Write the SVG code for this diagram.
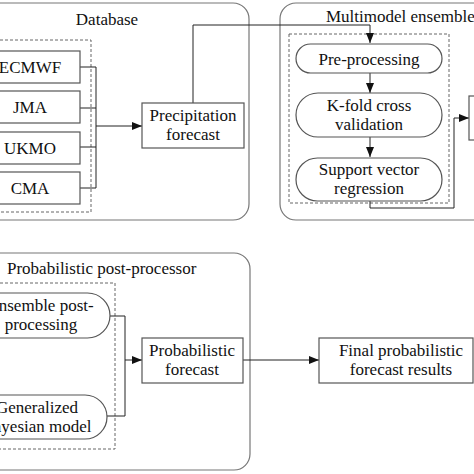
<svg xmlns="http://www.w3.org/2000/svg" width="474" height="474" viewBox="0 0 474 474">
<defs>
<marker id="ah" viewBox="0 0 10 8" refX="10" refY="4" markerWidth="10" markerHeight="8" markerUnits="userSpaceOnUse" orient="auto">
<path d="M0,0 L10,4 L0,8 Z" fill="#111"/>
</marker>
</defs>
<style>
text{font-family:"Liberation Serif","Times New Roman",serif;font-size:17px;fill:#111;text-anchor:middle}
.cont{fill:none;stroke:#777;stroke-width:1.2}
.dash{fill:none;stroke:#666;stroke-width:1;stroke-dasharray:3,2}
.box{fill:#fff;stroke:#555;stroke-width:1.2}
.ln{fill:none;stroke:#222;stroke-width:1}
.arr{fill:none;stroke:#222;stroke-width:1;marker-end:url(#ah)}
</style>
<rect width="474" height="474" fill="#fff"/>
<g id="containers">
<rect class="cont" x="-20" y="3" width="269" height="217" rx="16"/>
<rect class="cont" x="280" y="3" width="230" height="217" rx="16"/>
<rect class="cont" x="-20" y="253" width="270" height="217" rx="16"/>
<rect class="dash" x="-10" y="40" width="101" height="172"/>
<rect class="dash" x="289" y="34" width="160" height="169"/>
<rect class="dash" x="-10" y="283" width="125" height="166"/>
<text x="107" y="25">Database</text>
<text x="326" y="22" style="text-anchor:start">Multimodel ensemble</text>
<text x="7" y="274" style="text-anchor:start">Probabilistic post-processor</text>
</g>
<g id="connectors">
<path class="ln" d="M80,67 H96 M80,108 H96 M80,147 H96 M80,188 H96 M96,67 V188"/>
<path class="arr" d="M96,126 H142"/>
<path class="arr" d="M193,103 V25 H370 V43"/>
<path class="arr" d="M370,73 V93"/>
<path class="arr" d="M370,137 V157"/>
<path class="arr" d="M370,201 V208 H454 V118 H469"/>
<path class="ln" d="M110,316 H125 V416 H107"/>
<path class="arr" d="M125,360 H142"/>
<path class="arr" d="M243,360 H319"/>
</g>
<g id="ecmwf"><rect class="box" x="-20" y="51" width="100" height="32"/><text x="30" y="73">ECMWF</text></g>
<g id="jma"><rect class="box" x="-20" y="91" width="100" height="32"/><text x="30" y="113">JMA</text></g>
<g id="ukmo"><rect class="box" x="-20" y="132" width="100" height="32"/><text x="30" y="154">UKMO</text></g>
<g id="cma"><rect class="box" x="-20" y="172" width="100" height="32"/><text x="30" y="194">CMA</text></g>
<g id="precip"><rect class="box" x="142" y="103" width="102" height="45"/><text x="193" y="121">Precipitation</text><text x="193" y="140">forecast</text></g>
<g id="preproc"><rect class="box" x="296" y="44" width="146" height="29" rx="14.5"/><text x="369" y="65">Pre-processing</text></g>
<g id="kfold"><rect class="box" x="296" y="93" width="146" height="44" rx="22"/><text x="369" y="111">K-fold cross</text><text x="369" y="130">validation</text></g>
<g id="svr"><rect class="box" x="296" y="158" width="146" height="43" rx="21.5"/><text x="369" y="175">Support vector</text><text x="369" y="194">regression</text></g>
<g id="mme-out"><rect class="box" x="469" y="96" width="30" height="44"/></g>
<g id="epp"><rect class="box" x="-28" y="293" width="138" height="45" rx="22.5"/><text x="41" y="311">Ensemble post-</text><text x="41" y="330">processing</text></g>
<g id="gbm"><rect class="box" x="-33" y="395" width="140" height="44" rx="22"/><text x="37" y="413">Generalized</text><text x="37" y="432">Bayesian model</text></g>
<g id="probfc"><rect class="box" x="142" y="338" width="101" height="45"/><text x="192" y="356">Probabilistic</text><text x="192" y="375">forecast</text></g>
<g id="final"><rect class="box" x="319" y="338" width="154" height="45"/><text x="401" y="356">Final probabilistic</text><text x="401" y="375">forecast results</text></g>
</svg>
